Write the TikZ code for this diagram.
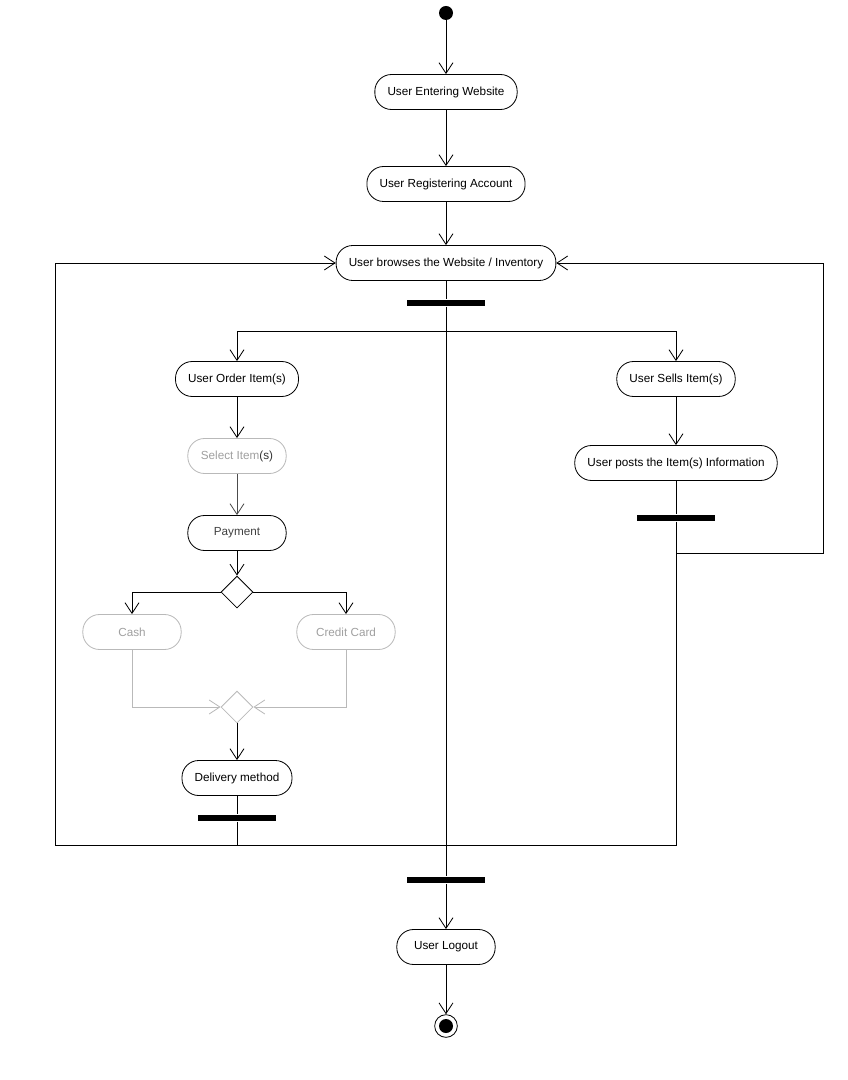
\documentclass[tikz,border=0pt]{standalone}
\usepackage{fontspec}
\setmainfont{Liberation Sans}
\usetikzlibrary{arrows.meta,shapes.geometric}

\begin{document}
\begin{tikzpicture}[node distance=2.37cm, auto, line width=0.7pt,
    >={Straight Barb[length=0.32cm,width=0.42cm]},
    every node/.style={font=\fontsize{10}{12}\selectfont},
    activity/.style={draw, rectangle, rounded corners=0.5cm, minimum height=1.05cm,
        minimum width=2.95cm, inner xsep=0.38cm, align=center},
    faded/.style={draw=gray!55, text=gray!75},
    bar/.style={fill=black, rectangle, minimum width=2.34cm, minimum height=0.2cm, inner sep=0pt},
    decision/.style={draw, diamond, aspect=1, minimum width=0.96cm, minimum height=0.96cm, inner sep=0pt},
    startdot/.style={fill=black, circle, minimum size=0.42cm, inner sep=0pt},
    enddot/.style={draw, circle, minimum size=0.68cm, inner sep=0pt,
        path picture={\fill (path picture bounding box.center) circle (0.21cm);}}]
        \useasboundingbox (-13.38,0.39) rectangle (12.03,-32.01);

        % Nodes for main flow
        \node [startdot] (start) {};
        \node [activity, below of=start] (enter) {User Entering Website};
        \node [activity, below of=enter, node distance=2.76cm] (register) {User Registering Account};
        \node [activity, below of=register] (browse) {User browses the Website / Inventory};
        \node [bar, below of=browse, node distance=1.2cm] (fork) {};
        \node [bar, below of=fork, node distance=17.31cm] (join) {};
        \node [activity, below of=join, node distance=2.01cm] (logout) {User Logout};
        \node [enddot, below of=logout] (stop) {};

        % Nodes for buying branch
        \node [activity, below of=fork, node distance=2.28cm, xshift=-6.27cm] (order) {User Order Item(s)};
        \node [activity, faded, below of=order, node distance=2.31cm] (select) {Select Item{\color{black!80}(s)}};
        \node [activity, text=black!75, below of=select, node distance=2.31cm] (payment) {Payment};
        \node [decision, below of=payment, node distance=1.77cm] (choice) {};
        \node [activity, faded, below of=choice, node distance=1.2cm, xshift=-3.15cm] (cash) {Cash};
        \node [activity, faded, below of=choice, node distance=1.2cm, xshift=3.27cm] (card) {Credit Card};
        \node [decision, draw=gray!55, below of=choice, node distance=3.45cm] (merge) {};
        \node [activity, below of=merge, node distance=2.13cm] (delivery) {Delivery method};
        \node [bar, below of=delivery, node distance=1.2cm] (paid) {};

        % Nodes for selling branch
        \node [activity, below of=fork, node distance=2.28cm, xshift=6.9cm] (sell) {User Sells Item(s)};
        \node [activity, below of=sell, node distance=2.52cm] (post) {User posts the Item(s) Information};
        \node [bar, below of=post, node distance=1.65cm] (posted) {};

        % Corners of the loops
        \path (fork) ++(0,-0.84) coordinate (split);
        \path (start) ++(-11.73,-24.96) coordinate (lowleft);
        \path (start) ++(11.31,-16.2) coordinate (backright);

        % Arrows for main flow
        \draw [->] (start) -- (enter);
        \draw [->] (enter) -- (register);
        \draw [->] (register) -- (browse);
        \draw (browse) -- (fork);
        \draw (fork) -- (join);
        \draw [->] (join) -- (logout);
        \draw [->] (logout) -- (stop);

        % Arrows for buying branch
        \draw [->] (split) -| (order);
        \draw [->] (order) -- (select);
        \draw [->, draw=black!70] (select) -- (payment);
        \draw [->] (payment) -- (choice);
        \draw [->] (choice.west) -| (cash);
        \draw [->] (choice.east) -| (card);
        \draw [->, draw=gray!55] (cash) |- (merge.west);
        \draw [->, draw=gray!55] (card) |- (merge.east);
        \draw [->] (merge) -- (delivery);
        \draw (delivery) -- (paid);
        \draw [->] (paid) |- (lowleft) |- (browse.west);

        % Arrows for selling branch
        \draw [->] (split) -| (sell);
        \draw [->] (sell) -- (post);
        \draw (post) -- (posted);
        \draw (posted) -- (posted |- lowleft) -- (lowleft);
        \draw [->] (posted |- backright) -- (backright) |- (browse.east);
    \end{tikzpicture}
\end{document}
